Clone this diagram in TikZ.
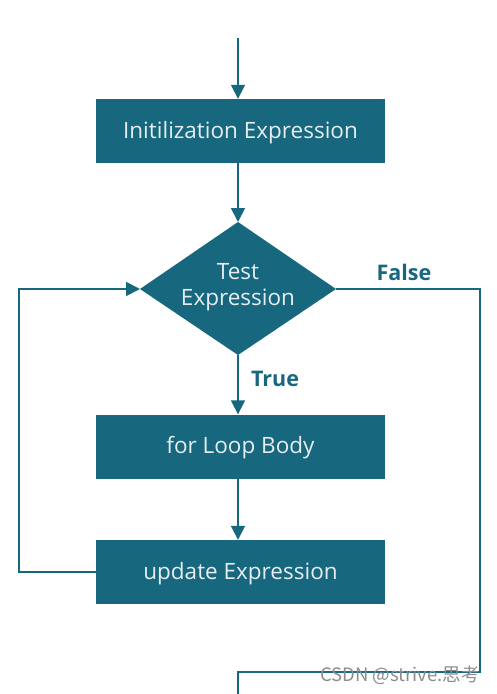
\documentclass[tikz,border=0pt]{standalone}
\usepackage{fontspec}
\setmainfont{Open Sans}
\newfontfamily\cjkfont{Noto Sans CJK SC}
\usetikzlibrary{shapes.geometric,arrows.meta}
\definecolor{teal1}{HTML}{17677F}
\definecolor{boxtext}{HTML}{E6EEF1}
\tikzset{
  procbox/.style={fill=teal1, draw=none, minimum width=289pt, minimum height=64pt, text=boxtext, font=\fontsize{22.5}{26}\selectfont, inner sep=0pt, text height=18pt, text depth=3.4pt},
  flow/.style={draw=teal1, line width=1.8pt, -{Triangle[length=14pt,width=14pt]}},
  wire/.style={draw=teal1, line width=1.8pt},
  lbl/.style={text=teal1, font=\bfseries\fontsize{21.5}{24}\selectfont, inner sep=0pt}
}
\begin{document}
\begin{tikzpicture}[x=1pt,y=-1pt]
\useasboundingbox (0,0) rectangle (496,694);
\coordinate (start) at (238,38);
\node[procbox] (init) at (240.5,131) {Initilization Expression};
\coordinate (tl) at (140,289);
\coordinate (tr) at (336,289);
\coordinate (tt) at (238,222);
\coordinate (tb) at (238,355);
\path[fill=teal1] (tl) -- (tt) -- (tr) -- (tb) -- cycle;
\node[text=boxtext, font=\fontsize{22.5}{26.5}\selectfont, align=center, inner sep=0pt] (test) at (238,287) {Test\\Expression};
\node[procbox] (body) at (240.5,446.5) {for Loop Body};
\node[procbox] (upd) at (240.5,572) {update Expression};
\coordinate (lc1) at (19,572);
\coordinate (lc2) at (19,289);
\coordinate (rc1) at (480,289);
\coordinate (rc2) at (480,672);
\coordinate (bc1) at (238,672);
\coordinate (bend) at (238,694);
\draw[flow] (start) -- (init.north -| start);
\draw[flow] (init.south -| start) -- (tt);
\draw[flow] (tb) -- (body.north -| tb);
\draw[flow] (body.south -| tb) -- (upd.north -| tb);
\draw[flow] (upd.west) -- (lc1) -- (lc2) -- (tl);
\draw[wire] (tr) -- (rc1) -- (rc2) -- (bc1) -- (bend);
\node[lbl] (tlab) at (275,379) {True};
\node[lbl] (flab) at (404,272) {False};
\node[text=black!45, font=\cjkfont\fontsize{18.5}{20}\selectfont, inner sep=0pt] (wm) at (400,675) {CSDN @strive.思考};
\end{tikzpicture}
\end{document}
